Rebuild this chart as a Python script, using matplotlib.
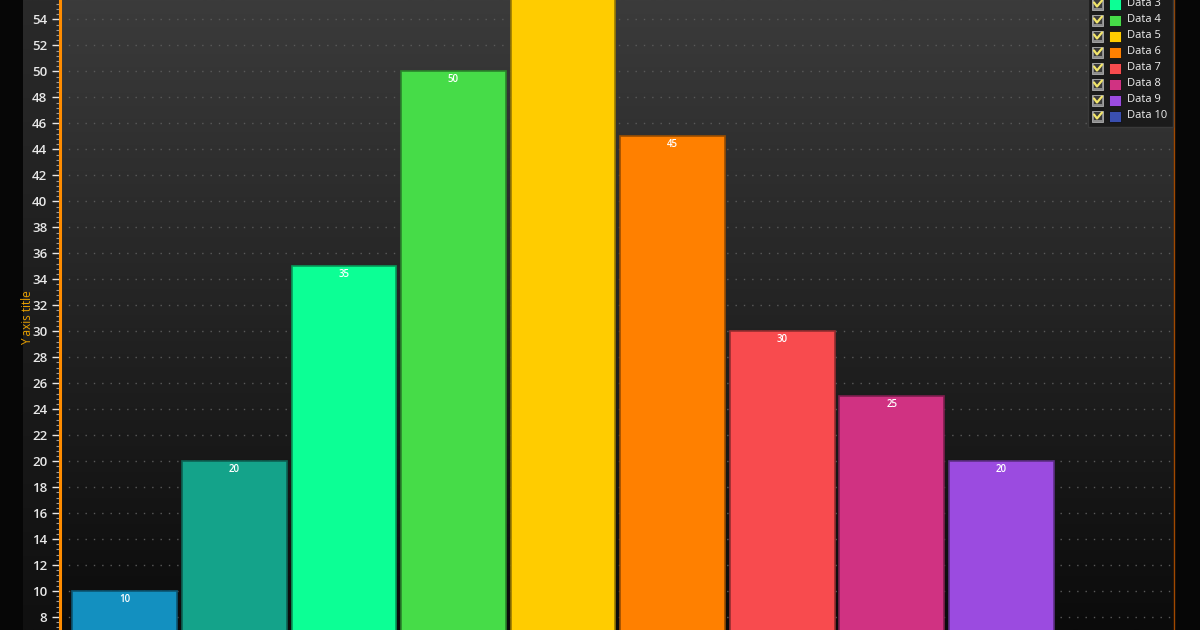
import matplotlib
matplotlib.use("Agg")
import matplotlib.pyplot as plt
import matplotlib.colors as mcolors
import numpy as np
from matplotlib.patches import Rectangle

# data
series_names = ["Data 1", "Data 2", "Data 3", "Data 4", "Data 5",
                "Data 6", "Data 7", "Data 8", "Data 9", "Data 10"]
values = [10, 20, 35, 50, 60, 45, 30, 25, 20, 5]
bar_colors = ["#1390c0", "#14a38a", "#0cff95", "#46dc48", "#ffcc00",
              "#ff8000", "#f84b4e", "#d03282", "#9b4be0", "#3a4fb0"]
y_axis_title = "Y axis title"

W, H = 1200, 630
plt.rcParams["font.family"] = ["Open Sans", "DejaVu Sans"]


def darken(c, f=0.6):
    r, g, b = mcolors.to_rgb(c)
    return (r * f, g * f, b * f)


def vgrad(ax, top, bottom):
    t = np.array(mcolors.to_rgb(top))
    b = np.array(mcolors.to_rgb(bottom))
    k = np.linspace(0, 1, 256)[:, None]
    img = (t * (1 - k) + b * k)[:, None, :]
    ax.imshow(img, extent=[0, 1, 0, 1], transform=ax.transAxes,
              aspect="auto", zorder=0, interpolation="bilinear")


fig = plt.figure(figsize=(W / 100, H / 100), dpi=100)
fig.patch.set_facecolor("#060606")

# backdrop for the axis label band and plot area
band = fig.add_axes([23 / W, 0, (60 - 23) / W, 1])
band.axis("off")
vgrad(band, "#2a2a2a", "#101010")

ax = fig.add_axes([60 / W, 0, (1174 - 60) / W, 1])
vgrad(ax, "#3b3b3b", "#0b0b0b")
ax.set_facecolor("none")

x = np.arange(len(values))
ax.bar(x, values, width=0.955, color=bar_colors,
       edgecolor=[darken(c) for c in bar_colors], linewidth=1.2, zorder=3)

ylo, yhi = 7.0, 55.5
for xi, v in zip(x, values):
    if ylo < v - 0.6 < yhi:
        ax.text(xi, v - 0.62, str(v), ha="center", va="center",
                fontsize=7, color="white", fontweight="semibold", zorder=4)

ax.set_xlim(-0.59, 9.575)
ax.set_ylim(ylo, yhi)
ax.set_yticks(np.arange(8, 56, 2))
ax.set_yticks(np.arange(7.2, 55.6, 0.4), minor=True)
ax.set_xticks([])
ax.tick_params(axis="y", which="major", colors="#e6e6e6", labelsize=9.5,
               length=6, width=1, pad=3)
ax.tick_params(axis="y", which="minor", colors="#9a9a9a", length=3, width=0.8)
for lbl in ax.get_yticklabels():
    lbl.set_color("#e8e8e8")
    lbl.set_fontweight("semibold")
ax.grid(axis="y", which="major", color="#5a5a5a", linestyle=(0, (1, 5)),
        linewidth=1, zorder=1)

for side in ["top", "bottom"]:
    ax.spines[side].set_visible(False)
ax.spines["left"].set_color("#ff8c00")
ax.spines["left"].set_linewidth(2.2)
ax.spines["right"].set_color("#a04800")
ax.spines["right"].set_linewidth(1)

fig.text(28 / W, 1 - 318 / H, y_axis_title, rotation=90, color="#e8a000",
         fontsize=8.5, ha="center", va="center")

# legend overlay in pixel coordinates
ov = fig.add_axes([0, 0, 1, 1])
ov.set_xlim(0, W)
ov.set_ylim(H, 0)
ov.axis("off")
ov.set_zorder(10)
ov.patch.set_alpha(0)

row_h = 16
first_y = 4 - 2 * row_h
ov.add_patch(Rectangle((1088, -10), 85, 137, facecolor="#1b1b1b",
                       edgecolor="#3a3a3a", linewidth=1))
for i, (name, col) in enumerate(zip(series_names, bar_colors)):
    yc = first_y + i * row_h
    ov.add_patch(Rectangle((1092, yc - 5.5), 11, 11, facecolor="#8c8c8c",
                           edgecolor="#b0b0b0", linewidth=0.6))
    ov.add_patch(Rectangle((1093.5, yc - 4), 8, 8, facecolor="#3a3a3a",
                           edgecolor="none"))
    ov.plot([1094, 1097, 1102], [yc - 1.5, yc + 2.5, yc - 3.5],
            color="#f2e56a", linewidth=1.6, solid_capstyle="round")
    ov.add_patch(Rectangle((1109, yc - 5.5), 11.5, 11, facecolor=col,
                           edgecolor="#111111", linewidth=0.6))
    if yc > 0:  # entries scrolled above the top edge are not shown
        ov.text(1127, yc, name, color="#f0f0f0", fontsize=8,
                ha="left", va="center")

fig.savefig("out.png", dpi=100, facecolor=fig.get_facecolor())
